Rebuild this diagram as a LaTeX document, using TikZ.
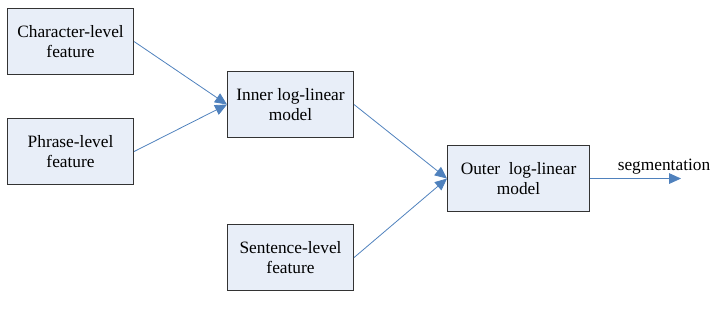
\documentclass[tikz,border=0pt]{standalone}
\usepackage{fontspec}
\setmainfont{Liberation Serif}
\usetikzlibrary{arrows.meta}
\definecolor{boxfill}{HTML}{E8EEF8}
\definecolor{arrowc}{HTML}{4F81BD}
\begin{document}
\begin{tikzpicture}[x=0.75pt,y=-0.75pt,
  fbox/.style={draw=black!80,line width=0.8pt,fill=boxfill,minimum width=94.5pt,minimum height=49.5pt,inner sep=0pt,align=center,font=\fontsize{13}{15}\selectfont,anchor=north west},
  conn/.style={draw=arrowc,line width=0.6pt,-{Triangle[length=9pt,width=8pt]}}]
\useasboundingbox (0,0) rectangle (718,308);
\node[fbox] (a) at (7,8) {Character-level\\feature};
\node[fbox] (b) at (7,118) {Phrase-level\\feature};
\node[fbox] (i) at (227,71) {Inner log-linear\\model};
\node[fbox] (s) at (227,224) {Sentence-level\\feature};
\node[fbox,minimum width=106.5pt] (o) at (447,145) {Outer\ \ log-linear\\model};
\coordinate (e) at (681,178);
\draw[conn] (a.east) -- (i.west);
\draw[conn] (b.east) -- (i.west);
\draw[conn] (i.east) -- (o.west);
\draw[conn] (s.east) -- (o.west);
\draw[conn] (o.east) -- (o.east -| e);
\node[font=\fontsize{13}{15}\selectfont,anchor=base] (lbl) at (664,170) {segmentation};
\end{tikzpicture}
\end{document}
